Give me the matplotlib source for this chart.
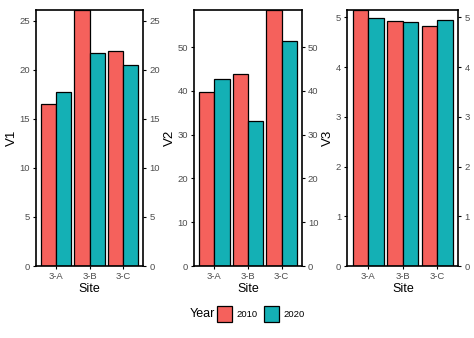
import numpy as np
import matplotlib.pyplot as plt
from matplotlib.patches import Patch

plt.rcParams['font.family'] = ['Liberation Sans', 'DejaVu Sans']

# data
sites = ['3-A', '3-B', '3-C']
years = ['2010', '2020']
v1_2010 = [16.5, 26.05, 21.9]
v1_2020 = [17.7, 21.7, 20.5]
v2_2010 = [39.7, 43.8, 58.4]
v2_2020 = [42.7, 33.2, 51.5]
v3_2010 = [5.14, 4.93, 4.82]
v3_2020 = [4.99, 4.90, 4.95]

COLORS = ['#F5615C', '#14B0B5']
W, H = 474, 338

fig = plt.figure(figsize=(W / 100, H / 100), dpi=100)


def px_axes(x0, x1, y0, y1):
    return fig.add_axes([x0 / W, 1 - y1 / H, (x1 - x0) / W, (y1 - y0) / H])


panels = [
    ('V1', v1_2010, v1_2020, [0, 5, 10, 15, 20, 25], (36, 143)),
    ('V2', v2_2010, v2_2020, [0, 10, 20, 30, 40, 50], (194.3, 301.7)),
    ('V3', v3_2010, v3_2020, [0, 1, 2, 3, 4, 5], (347.3, 458.3)),
]

x = np.arange(1, len(sites) + 1)
bw = 0.45
for name, a, b, ticks, (x0, x1) in panels:
    ax = px_axes(x0, x1, 10.3, 266)
    ax.bar(x - bw / 2, a, width=bw, color=COLORS[0], edgecolor='black', linewidth=0.9)
    ax.bar(x + bw / 2, b, width=bw, color=COLORS[1], edgecolor='black', linewidth=0.9)
    ax.set_xlim(0.4, 3.6)
    ax.set_ylim(0, max(max(a), max(b)))
    ax.set_yticks(ticks)
    ax.set_xticks(x)
    ax.set_xticklabels(sites)
    ax.tick_params(axis='both', labelsize=6.8, labelcolor='#4D4D4D', length=2.5,
                   width=0.8, pad=2)
    ax.tick_params(axis='y', right=True, labelright=True)
    for s in ax.spines.values():
        s.set_linewidth(1.2)
    ax.set_xlabel('Site', fontsize=9, labelpad=1)
    ax.set_ylabel(name, fontsize=9.5, labelpad=1)

# legend
fig.text(190 / W, 1 - 314 / H, 'Year', fontsize=9, va='center', ha='left')
handles = [Patch(facecolor=c, edgecolor='black', linewidth=0.9) for c in COLORS]
fig.legend(handles, years, ncol=2, loc='center left', bbox_to_anchor=(216.5 / W, 1 - 314 / H),
           frameon=False, fontsize=6.8, handlelength=1.65, handleheight=2.2,
           columnspacing=0.6, handletextpad=0.5, borderaxespad=0, borderpad=0)

fig.savefig('out.png', dpi=100)
